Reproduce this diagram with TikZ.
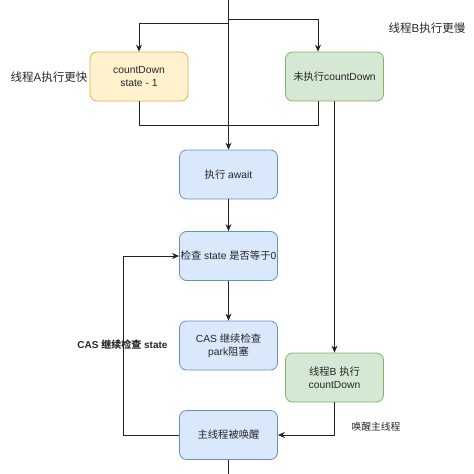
\documentclass[tikz,border=0pt]{standalone}
\usepackage{fontspec}
\setmainfont{Liberation Sans}
\newfontfamily\cjkfont{Noto Sans CJK SC}
\newcommand{\cj}[1]{{\cjkfont #1}}
\usetikzlibrary{arrows.meta}
\definecolor{yfill}{HTML}{FFF2CC}\definecolor{ydraw}{HTML}{D6B656}
\definecolor{gfill}{HTML}{D5E8D4}\definecolor{gdraw}{HTML}{82B366}
\definecolor{bfill}{HTML}{DAE8FC}\definecolor{bdraw}{HTML}{6C8EBF}
\definecolor{linec}{HTML}{222222}
\tikzset{
  box/.style={rounded corners=7pt,minimum width=98pt,minimum height=49pt,align=center,font=\fontsize{10.3}{13}\selectfont,text=black!85,line width=0.8pt,inner sep=1pt},
  ybox/.style={box,fill=yfill,draw=ydraw},
  gbox/.style={box,fill=gfill,draw=gdraw},
  bbox/.style={box,fill=bfill,draw=bdraw},
  conn/.style={draw=linec,line width=0.9pt},
  arr/.style={conn,-{Stealth[length=7pt,width=6pt]}},
  lbl/.style={font=\fontsize{11.5}{13}\selectfont,text=black!85,inner sep=0pt},
  slbl/.style={font=\fontsize{9.8}{12}\selectfont,text=black!85,inner sep=0pt},
  blbl/.style={font=\fontsize{10}{12}\selectfont\bfseries,text=black!85,inner sep=0pt}
}
\begin{document}
\begin{tikzpicture}[x=1pt,y=-1pt]
\useasboundingbox (0,0) rectangle (474,474);
\node[ybox] (y1) at (139,76.5) {countDown\\state - 1};
\node[gbox] (g1) at (334.5,76.5) {\cj{未执行}countDown};
\node[bbox] (aw) at (228.5,174.5) {\cj{执行} await};
\node[bbox] (ck) at (228.5,256) {\cj{检查} state \cj{是否等于}0};
\node[bbox] (cas) at (228.5,345.5) {CAS \cj{继续检查}\\park\cj{阻塞}};
\node[bbox] (mn) at (228.5,435) {\cj{主线程被唤醒}};
\node[gbox] (g2) at (334.5,377.5) {\cj{线程}B \cj{执行}\\countDown};
\node[lbl] (la) at (49,77) {\cj{线程}A\cj{执行更快}};
\node[lbl] (lb) at (427,28) {\cj{线程}B\cj{执行更慢}};
\node[blbl] (lc) at (122.5,345) {CAS \cj{继续检查} state};
\node[slbl] (ld) at (376,427) {\cj{唤醒主线程}};
\coordinate (top) at (228.5,0);
\coordinate (ja) at (228.5,23.3);
\coordinate (jb) at (228.5,19.5);
\coordinate (bot) at (228.5,474);
\draw[arr] (top) -- (aw.north);
\draw[arr] (ja) -| (y1.north);
\draw[arr] (jb) -| ([xshift=-16.5pt]g1.north);
\draw[conn] (y1.south) -- ++(0,24) -| ([xshift=-16.5pt]g1.south);
\draw[arr] (g1.south) -- (g2.north);
\draw[arr] (g2.south) |- (mn.east);
\draw[arr] (aw.south) -- (ck.north);
\draw[arr] (ck.south) -- (cas.north);
\draw[conn] (mn.south) -- (bot);
\draw[arr] (mn.west) -- ++(-56,0) |- (ck.west);
\end{tikzpicture}
\end{document}
